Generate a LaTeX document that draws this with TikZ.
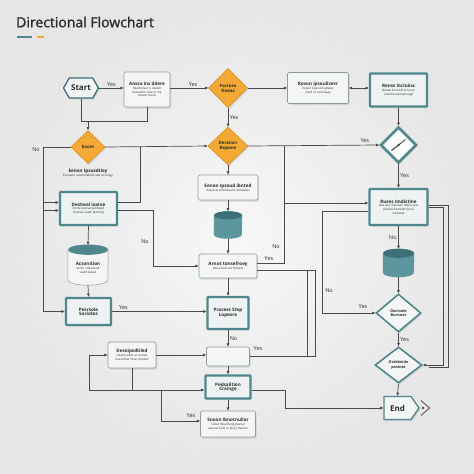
\documentclass[tikz,border=0pt]{standalone}
\usepackage{fontspec}
\setmainfont{Open Sans}
\newfontfamily\titlefont[FakeBold=1.4]{Open Sans}
\usetikzlibrary{shapes.geometric,shapes.symbols,shadows,arrows.meta,calc}
\definecolor{tealb}{HTML}{4F878D}
\definecolor{tealc}{HTML}{5B979D}
\definecolor{teald}{HTML}{3C7076}
\definecolor{orng}{HTML}{F4A934}
\definecolor{orngd}{HTML}{D9901F}
\definecolor{boxf}{HTML}{F4F6F6}
\definecolor{boxd}{HTML}{8F9B9D}
\definecolor{tboxf}{HTML}{EEF2F2}
\definecolor{lnc}{HTML}{4A4A4A}
\definecolor{txc}{HTML}{2B2B2B}
\definecolor{bgin}{HTML}{F7F7F7}
\definecolor{bgout}{HTML}{E6E6E6}
\newcommand\ttl[1]{{\bfseries\fontsize{4.6}{5.2}\selectfont #1}}
\newcommand\stx[1]{{\fontsize{3}{3.6}\selectfont #1}}
\newcommand\drawcyl[5]{%
  \begin{scope}[shift={(1.8pt,-2.2pt)}]
  \fill[black,opacity=0.13] ($(#1.north west)+(0pt,-#3)$) -- ($(#1.south west)+(0pt,#3)$)
    arc[start angle=180,end angle=360,x radius=#2,y radius=#3]
    -- ($(#1.north east)+(0pt,-#3)$)
    arc[start angle=0,end angle=180,x radius=#2,y radius=#3] -- cycle;
  \end{scope}
  \fill[#4] ($(#1.north west)+(0pt,-#3)$) -- ($(#1.south west)+(0pt,#3)$)
    arc[start angle=180,end angle=360,x radius=#2,y radius=#3]
    -- ($(#1.north east)+(0pt,-#3)$)
    arc[start angle=0,end angle=180,x radius=#2,y radius=#3] -- cycle;
  \fill[#5] ($(#1.north)+(0pt,-#3)$) ellipse[x radius=#2,y radius=#3];
}
\begin{document}
\begin{tikzpicture}[x=1pt,y=-1pt,
  line/.style={draw=lnc, line width=0.7pt},
  arr/.style={line, -{Triangle[length=3.2pt,width=2.6pt]}},
  dbl/.style={line, {Triangle[length=3.2pt,width=2.6pt]}-{Triangle[length=3.2pt,width=2.6pt]}},
  shad/.style={drop shadow={opacity=0.22, shadow xshift=1.2pt, shadow yshift=-1.6pt}},
  box/.style={rectangle, rounded corners=1.5pt, fill=boxf, draw=boxd, line width=0.7pt, shad, align=center, inner sep=1pt, text=txc, font=\fontsize{3.2}{3.7}\selectfont},
  tbox/.style={box, draw=tealb, line width=2.4pt, fill=tboxf, rounded corners=0.8pt},
  odia/.style={diamond, fill=orng, draw=orngd, line width=0.6pt, inner sep=0pt, align=center, shad, text=txc, font=\bfseries\fontsize{4.4}{5}\selectfont},
  tdia/.style={diamond, fill=boxf, draw=tealb, line width=1.6pt, inner sep=0pt, align=center, shad, text=txc, font=\bfseries\fontsize{3.8}{4.4}\selectfont},
  lbl/.style={font=\fontsize{5.5}{6}\selectfont, text=txc, inner sep=0.5pt},
  cyln/.style={inner sep=0pt},
]
\useasboundingbox (0,0) rectangle (474,474);
\shade[inner color=bgin, outer color=bgout] (0,0) rectangle (474,474);

\node[anchor=west, font=\titlefont\fontsize{14}{16}\selectfont, text=txc, inner sep=0pt] (title) at (16,22) {Directional Flowchart};
\node[fill=tealb, minimum width=15pt, minimum height=2.6pt, inner sep=0pt] (bar1) at (24.5,37) {};
\node[fill=orng, minimum width=7pt, minimum height=2.6pt, inner sep=0pt] (bar2) at (40.5,37) {};

% top row
\node[signal, signal to=east and west, signal pointer angle=120, draw=teald, line width=1.3pt, fill=boxf, minimum width=35pt, minimum height=20pt, inner sep=0pt, font=\bfseries\fontsize{8}{9}\selectfont, text=txc, shad] (start) at (81,88) {Start};
\node[box, minimum width=46pt, minimum height=35pt] (boxa) at (147,89.5) {\ttl{Aossa ins diiere}\\\stx{Rearbitiaur u dswoll}\\\stx{deisuvher inse er ine}\\\stx{evraisl siseet}};
\node[odia, minimum width=39pt, minimum height=39pt] (d1) at (228,88) {Foctose\\Doeas};
\node[box, minimum width=61pt, minimum height=31pt] (boxb) at (318,88) {\ttl{Rovon ipsoulizevr}\\\stx{Eoopn Ejanoivrsyltwey}\\\stx{insell se oosl waay}};
\node[tbox, minimum width=57pt, minimum height=33pt] (boxc) at (398.5,90) {\ttl{Renss incluina}\\\stx{Denae lionet dl erncuss}\\\stx{ciaeniie waesetnoagl}};
\node[tdia, line width=2.6pt, fill=white, minimum width=36pt, minimum height=36pt] (d2) at (398.5,145) {};
\draw[line width=0.9pt, draw=lnc] ([shift={(-7pt,-5.5pt)}]d2.center) -- ([shift={(7pt,5.5pt)}]d2.center);
\draw[line width=0.9pt, draw=lnc, -{Triangle[length=2.6pt,width=2.4pt]}] ([shift={(-7pt,-5.5pt)}]d2.center) -- ([shift={(1.8pt,1.4pt)}]d2.center);

% left column
\node[odia, minimum width=34pt, minimum height=33pt] (eoom) at (88,147) {Eoom};
\node[align=center, text=txc, font=\fontsize{3.2}{3.8}\selectfont, inner sep=0pt] (eoomtxt) at (88,173) {\ttl{Eenon Ipsusdtiey}\\\stx{Eoceamt cesetesafeod aetl cosnngy}};
\node[tbox, minimum width=57pt, minimum height=33pt] (destwal) at (88.5,208.5) {\ttl{Destwal ioxine}\\\stx{Ibnde wnoserpetdlaed}\\\stx{beenue seedi plotnng}};
\node[cyln, minimum width=40pt, minimum height=40pt] (cyl2) at (88,265) {};
\drawcyl{cyl2}{20pt}{5pt}{boxf,draw=boxd,line width=0.5pt}{tealb}
\node[align=center, text=txc, font=\fontsize{3.2}{3.8}\selectfont, inner sep=0pt] (cyl2txt) at ([yshift=-3pt]cyl2.center) {\ttl{Acsonition}\\\stx{Sand, und eesed}\\\stx{seeld tavest}};
\node[tbox, minimum width=45pt, minimum height=27pt] (pesr) at (88.5,311.5) {\ttl{Pesrsole}\\\ttl{Soriotes}};
\node[box, minimum width=48pt, minimum height=26pt] (desoip) at (132,355) {\ttl{Desoipsdtiled}\\\stx{Usecto peer ar cunset}\\\stx{bsesofiserl dser pneted}};

% middle column
\node[odia, minimum width=40pt, minimum height=38pt] (d3) at (228,146) {Decision\\Bepone};
\node[box, minimum width=60pt, minimum height=25pt] (eenon) at (228,187.5) {\ttl{Eenon Ipsoud ibnted}\\\stx{deasvcel volsetlicam cemeletes}};
\node[cyln, minimum width=28pt, minimum height=27pt] (cyl1) at (228,225) {};
\drawcyl{cyl1}{14pt}{4pt}{tealc}{teald}
\node[box, minimum width=58pt, minimum height=24pt] (arnot) at (228,266) {\ttl{Arnot tonsefroey}\\\stx{deeccivoel eerl pioeat}};
\node[tbox, minimum width=41pt, minimum height=32pt] (proc) at (228,313) {\ttl{Process Step}\\\ttl{Lopsoro}};
\node[box, minimum width=43pt, minimum height=19pt] (empty) at (228,356.5) {};
\node[tbox, minimum width=45pt, minimum height=23pt] (pedsal) at (228,387) {\ttl{Pedsalition}\\\ttl{Crainge}};
\node[box, minimum width=55pt, minimum height=26pt] (snoon) at (228,424) {\ttl{Snoon Ibnotnullar}\\\stx{Sobet Ibouthung piareel}\\\stx{aeurvel livisi ur pisiry deoisis}};

% right column
\node[tbox, minimum width=58pt, minimum height=36pt] (ruses) at (398.5,207) {\ttl{Ruses Imdistine}\\\stx{Nas wer insoiuen mene seis}\\\stx{pevries Exeroalt tosvil}\\\stx{insiseeet}};
\node[cyln, minimum width=31pt, minimum height=28pt] (cyl3) at (398.5,263) {};
\drawcyl{cyl3}{15.5pt}{4.5pt}{tealc}{teald}
\node[tdia, minimum width=45pt, minimum height=38pt] (doct) at (398.5,313) {Doctsole\\Burnoot};
\node[tdia, minimum width=47pt, minimum height=36pt] (ords) at (398.5,365) {Ordsheide\\posinse};
\node[signal, signal to=east, signal pointer angle=110, draw=tealb, line width=1.3pt, fill=boxf, minimum width=35pt, minimum height=23pt, inner sep=0pt, font=\bfseries\fontsize{8}{9}\selectfont, text=txc, shad] (endn) at (397.5,408) {End};
\fill[lnc] (423,408) circle[radius=1.3pt];
\draw[line, line width=0.8pt] (421,400.5) -- (429.5,408) -- (421,415.5);

% junction coordinates
\coordinate (xL) at (43,0);
\coordinate (x140) at (140,0);
\coordinate (x153) at (153,0);
\coordinate (x284) at (284,0);
\coordinate (x285) at (285,0);
\coordinate (x307) at (307,0);
\coordinate (x315) at (315,0);
\coordinate (x322) at (322,0);
\coordinate (x443) at (443,0);
\coordinate (x448) at (448,0);
\coordinate (x89) at (89,0);
\coordinate (x161) at (161,0);
\coordinate (yA) at (0,121);

% top connectors
\draw[arr] (start.east) -- (start.east -| boxa.west) node[lbl, midway, above=1pt] (l1) {Yes};
\draw[arr] (boxa.east |- d1.west) -- (d1.west) node[lbl, pos=0.6, above=1pt] (l2) {Yes};
\draw[arr] (d1.east) -- (boxb.west);
\draw[dbl] (boxb.east) -- (boxb.east -| boxc.west);
\draw[arr] (boxc.south) -- (d2.north);
\draw[arr] (d1.south) -- (d3.north) node[lbl, midway, right=1pt] (l3) {Yes};
\draw[arr] (d3.east) -- (d2.west) node[lbl, pos=0.89, above=1.5pt] (l4) {Yes};

% left connectors
\draw[line] (boxa.south) -- (boxa.south |- yA) -- (start.south |- yA) -- (start.south);
\draw[arr] (eoom.north |- yA) -- (eoom.north);
\draw[line] (eoom.west) -- (eoom.west -| xL) -- (xL |- pesr.west);
\node[lbl] (l5) at (36,150) {No};
\coordinate (dwA) at ([yshift=6pt]destwal.west);
\coordinate (dwB) at ([yshift=-2pt]destwal.west);
\draw[arr] (xL |- dwA) -- (dwA);
\draw[arr] (xL |- dwB) -- (dwB);
\draw[arr] (xL |- pesr.west) -- (pesr.west);
\draw[arr] (eoom.east) -- (d3.west);
\coordinate (deA) at ([yshift=6pt]destwal.east);
\coordinate (deB) at ([yshift=-2pt]destwal.east);
\draw[line] (deA) -- (deA -| x140) -- (x140 |- eoom.east);
\draw[arr] (deB) -- (deB -| x153) -- (x153 |- arnot.west) -- (arnot.west);
\node[lbl] (l6) at (145,242) {No};
\draw[arr] (destwal.south) -- (cyl2.north);
\draw[arr] (cyl2.south) -- (pesr.north);
\draw[arr] (pesr.east) -- (pesr.east -| proc.west) node[lbl, pos=0.12, above=1pt] (l7) {Yes};

% middle chain
\draw[arr] (d3.south) -- (eenon.north);
\draw[arr] (eenon.south) -- (cyl1.north);
\draw[arr] (cyl1.south) -- (arnot.north);
\draw[arr] (arnot.south) -- (proc.north);
\draw[arr] (proc.south) -- (empty.north) node[lbl, midway, right=1pt] (l8) {No};
\draw[arr] (empty.south) -- (pedsal.north);
\draw[arr] (pedsal.south) -- (snoon.north);

% middle-right connectors
\coordinate (ruA) at ([yshift=4pt]ruses.west);
\coordinate (ruB) at ([yshift=-4pt]ruses.west);
\coordinate (arA) at ([yshift=3pt]arnot.east);
\coordinate (arB) at ([yshift=-4pt]arnot.east);
\draw[line] (x284 |- d3.east) -- (x284 |- arA) -- (arA);
\draw[arr] (x284 |- ruA) -- (ruA);
\node[lbl] (l9) at (276,247) {No};
\node[lbl] (l10) at (269,259) {Yes};
\draw[arr] (ruB) -- (ruB -| x322) -- (x322 |- doct.west) -- (doct.west);
\node[lbl] (l11) at (329,291) {No};
\node[lbl] (l12) at (363,307) {Yes};
\draw[line] (arB) -- (arB -| x315) -- (x315 |- empty.east) -- (empty.east);
\draw[line] (x307 |- arB) -- (x307 |- empty.east);
\node[lbl] (l13) at (258,349) {Yes};

% right column connectors
\draw[arr] (d2.south) -- (ruses.north) node[lbl, midway, right=1pt] (l14) {Yes};
\draw[arr] (ruses.south) -- (cyl3.north) node[lbl, midway, left=1pt] (l15) {No};
\draw[arr] (cyl3.south) -- (doct.north);
\draw[arr] (doct.south) -- (ords.north) node[lbl, midway, right=1pt] (l16) {Yes};
\draw[arr] (ords.south) -- (endn.north);
\coordinate (reA) at ([yshift=2pt]ruses.east);
\coordinate (reB) at ([yshift=0pt]ruses.east);
\coordinate (oeO) at ([shift={(6pt,-2pt)}]ords.east);
\draw[arr] (reB) -- (reB -| x443) -- (x443 |- ords.east) -- (ords.east);
\draw[line] (reA) -- (reA -| x448) -- (x448 |- oeO) -- (oeO);

% bottom connectors
\coordinate (peA) at ([yshift=-3pt]pedsal.east);
\draw[arr] (peA) -- (peA -| x285) -- (x285 |- endn.west) -- (endn.west);
\coordinate (pwA) at ([yshift=-3pt]pedsal.west);
\draw[arr] (x89 |- pwA) -- (x89 |- desoip.west) -- (desoip.west);
\draw[arr] (x89 |- pwA) -- (pwA);
\draw[line] (desoip.south) -- (desoip.south |- pwA);
\draw[arr] (desoip.east) -- (desoip.east -| empty.west);
\coordinate (swA) at ([yshift=3pt]snoon.west);
\draw[arr] (x161 |- pwA) -- (x161 |- swA) -- (swA);
\node[lbl] (l17) at (191,416) {Yes};
\end{tikzpicture}
\end{document}
